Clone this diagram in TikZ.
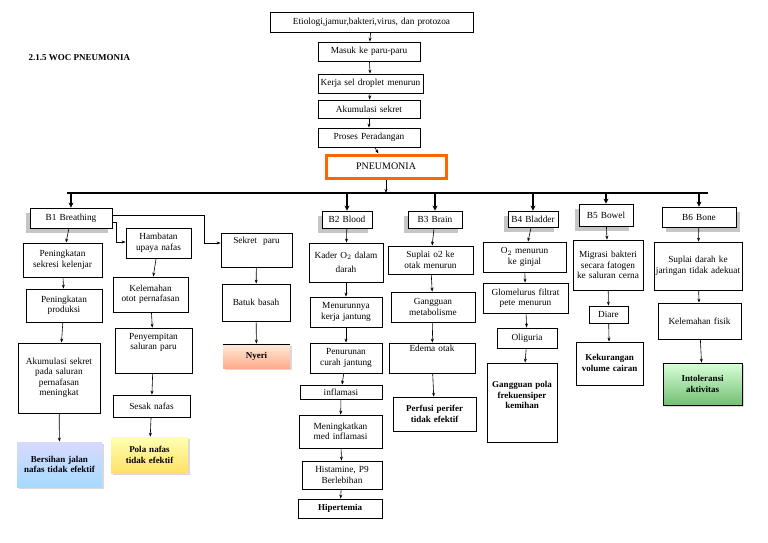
\documentclass[tikz,border=0pt]{standalone}
\usepackage{fontspec}
\setmainfont{Liberation Serif}
\usetikzlibrary{shadows,arrows.meta}
\hyphenpenalty=10000
\newcommand\bx[7][]{\node[box,#1,minimum width={(#5-#3)*1pt},minimum height={(#6-#4)*1pt},text width={(#5-#3-3)*1pt}] (#2) at ({(#3+#5)/2},{(#4+#6)/2}) {#7};}
\tikzset{
 box/.style={draw,line width=0.8pt,fill=white,align=center,inner sep=1pt,font=\fontsize{9.3}{10.5}\selectfont},
 bb/.style={drop shadow={opacity=1,fill=gray!45,shadow xshift=-4pt,shadow yshift=-5pt}},
 ar/.style={-{Stealth[length=4pt,width=3pt]},line width=0.6pt},
 thk/.style={-{Stealth[length=5pt,width=5pt]},line width=2.4pt},
 dx/.style={font=\bfseries\fontsize{9}{10.5}\selectfont},
}
\begin{document}
\hyphenpenalty=10000
\begin{tikzpicture}[x=1pt,y=-1pt]
\useasboundingbox (0,0) rectangle (768,543);
\node[anchor=west,font=\bfseries\fontsize{9}{10}\selectfont] (title) at (25,58) {2.1.5 WOC PNEUMONIA};
\bx{e}{270}{12}{473}{32}{Etiologi,jamur,bakteri,virus, dan protozoa}
\bx{m}{318}{42}{420}{61}{Masuk ke paru-paru}
\bx{k}{318}{74}{423}{93}{Kerja sel droplet menurun}
\bx{a}{318}{100}{420}{118}{Akumulasi sekret}
\bx{p}{318}{128}{420}{147}{Proses Peradangan}
\bx[draw=orange!80!red,line width=3pt,font=\fontsize{10}{11}\selectfont]{pn}{326}{155}{446}{178}{PNEUMONIA}
\foreach \u/\v in {e/m,m/k,k/a,a/p,p/pn} \draw[ar] (\u) -- (\v);
% B boxes
\bx[bb]{b1}{30}{208}{112}{228}{B1 Breathing}
\bx[bb]{b2}{322}{211}{372}{228}{B2 Blood}
\bx[bb]{b3}{408}{211}{462}{228}{B3 Brain}
\bx[bb]{b4}{508}{211}{558}{227}{B4 Bladder}
\bx[bb]{b5}{579}{204}{633}{226}{B5 Bowel}
\bx[drop shadow={opacity=1,fill=gray!45,shadow xshift=4pt,shadow yshift=-5pt}]{b6}{662}{207}{736}{227}{B6 Bone}
\coordinate (bar) at (386,193);
\draw[ar] (pn) -- (bar);
\draw[line width=2.4pt] (67,193) -- (708,193);
\foreach \b in {b1,b2,b3,b4,b5,b6} \draw[thk] (\b.north |- bar) -- (\b.north);
% B1
\bx{s1}{23}{243}{102}{277}{Peningkatan sekresi kelenjar}
\bx{s2}{26}{289}{102}{322}{Peningkatan produksi}
\bx{s3}{18}{343}{100}{413}{Akumulasi sekret pada saluran pernafasan meningkat}
\bx[dx,draw=none,top color=blue!15,bottom color=blue!40!cyan!35,drop shadow={opacity=1,fill=gray!30,shadow xshift=2pt,shadow yshift=-2pt}]{s4}{17}{442}{102}{487}{Bersihan jalan nafas tidak efektif}
\bx{h1}{126}{228}{191}{258}{Hambatan upaya nafas}
\bx{h2}{113}{277}{188}{312}{Kelemahan otot pernafasan}
\bx{h3}{115}{328}{192}{373}{Penyempitan saluran paru\\[8pt]\mbox{}}
\bx{h4}{113}{395}{190}{417}{Sesak nafas}
\bx[dx,draw=none,top color=yellow!30,bottom color=orange!40!yellow!60,drop shadow={opacity=1,fill=gray!30,shadow xshift=2pt,shadow yshift=-2pt}]{h5}{111}{437}{188}{473}{Pola nafas tidak efektif}
\bx{k1}{221}{233}{292}{267}{Sekret \ paru\\[8pt]\mbox{}}
\bx{k2}{222}{284}{290}{321}{Batuk basah}
\bx[dx,draw=none,top color=orange!15,bottom color=orange!55!red!45,drop shadow={opacity=1,fill=gray!30,shadow xshift=2pt,shadow yshift=-2pt}]{k3}{223}{344}{290}{368}{Nyeri}
\draw[line width=0.8pt] (223,344) -- (290,344);
\coordinate (c1) at (204,215); \coordinate (c2) at (116,222);
\draw[ar] (b1.east |- c1) -| (204,243) -- (k1.west |- 0,243);
\draw[ar] (b1.east |- c2) -| (116,242) -- (h1.west |- 0,242);
% B2
\bx{d1}{309}{243}{383}{282}{Kader O$_2$ dalam\\[4pt]darah}
\bx{d2}{310}{297}{382}{327}{Menurunnya kerja jantung}
\bx{d3}{310}{343}{382}{373}{Penurunan curah jantung}
\bx{d4}{300}{385}{382}{399}{inflamasi}
\bx{d5}{299}{415}{382}{448}{Meningkatkan med inflamasi}
\bx{d6}{302}{461}{382}{489}{Histamine, P9 Berlebihan}
\bx[dx]{d7}{298}{499}{382}{518}{Hipertemia}
% B3
\bx{r1}{388}{246}{473}{274}{Suplai o2 ke otak menurun}
\bx{r2}{391}{292}{475}{322}{Gangguan metabolisme}
\bx{r3}{389}{343}{475}{373}{Edema otak\\[8pt]\mbox{}}
\bx[dx]{r4}{393}{397}{476}{431}{Perfusi perifer tidak efektif}
% B4
\bx{g1}{483}{242}{566}{272}{O$_2$ menurun ke ginjal}
\bx{g2}{483}{283}{568}{313}{Glomelurus filtrat pete menurun}
\bx{g3}{497}{328}{557}{348}{Oliguria}
\bx[dx,text depth=36pt]{g4}{487}{363}{557}{442}{Gangguan pola frekuensiper kemihan}
% B5
\bx{w1}{573}{240}{643}{290}{Migrasi bakteri secara fatogen ke saluran cerna}
\bx{w2}{589}{306}{628}{323}{Diare}
\bx[dx,text depth=12pt]{w3}{576}{342}{643}{385}{Kekurangan volume cairan}
% B6
\bx{n1}{654}{242}{742}{290}{Suplai darah ke jaringan tidak adekuat}
\bx{n2}{658}{303}{741}{339}{Kelemahan fisik}
\bx[dx,top color=green!15,bottom color=green!55!black!55,drop shadow={opacity=1,fill=gray!30,shadow xshift=2pt,shadow yshift=-2pt}]{n3}{663}{363}{742}{405}{Intoleransi aktivitas}
\foreach \u/\v in {b1/s1,s1/s2,s2/s3,s3/s4,h1/h2,h2/h3,h3/h4,h4/h5,k1/k2,k2/k3,
 b2/d1,d1/d2,d2/d3,d3/d4,d4/d5,d5/d6,d6/d7,b3/r1,r1/r2,r2/r3,r3/r4,
 b4/g1,g1/g2,g2/g3,g3/g4,b5/w1,w1/w2,w2/w3,b6/n1,n1/n2,n2/n3}
 \draw[ar] (\u) -- (\v);
\end{tikzpicture}
\end{document}
